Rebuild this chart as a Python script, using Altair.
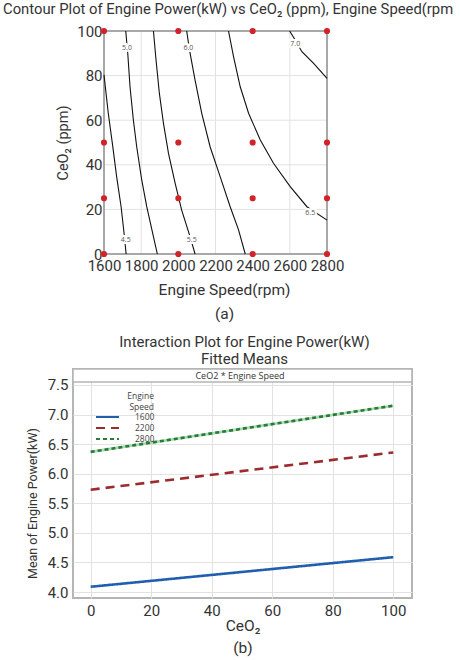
import altair as alt
import pandas as pd

FONT = "Roboto"
SMALL_FONT = "Open Sans"

# ---------------- Panel (a): contour plot ----------------
run_speed = [1600, 2000, 2400, 2800]
run_ceo2 = [0, 25, 50, 100]

grid_speed = [1800, 2200, 2600]
grid_ceo2 = [20, 40, 60, 80]

contour_levels = ["4.5", "5.0", "5.5", "6.0", "6.5", "7.0"]
c45_speed = [1600, 1623, 1645, 1668, 1692, 1708, 1719]
c45_ceo2 = [80.3, 63.1, 49.6, 34.7, 21.2, 9.3, 0]
c50_speed = [1717, 1728, 1740, 1758, 1776, 1803, 1830, 1866, 1887]
c50_ceo2 = [100, 89.8, 75, 60.1, 48.1, 33.2, 21.2, 7.8, 0]
c55_speed = [1866, 1880, 1898, 1920, 1947, 1983, 2018, 2063, 2090]
c55_ceo2 = [100, 87, 72, 58.6, 45.1, 31.7, 19.7, 7.8, 0]
c60_speed = [2045, 2060, 2090, 2126, 2171, 2225, 2279, 2324, 2360]
c60_ceo2 = [100, 91.5, 78, 63.1, 48.1, 34.7, 21.2, 10.8, 0]
c65_speed = [2270, 2297, 2333, 2378, 2441, 2512, 2602, 2692, 2800]
c65_ceo2 = [100, 88.5, 75, 63.1, 51.1, 40.7, 30.2, 21.2, 15.2]
c70_speed = [2599, 2629, 2665, 2728, 2800]
c70_ceo2 = [100, 96, 90.7, 85.5, 78.8]

label_speed = [1717, 1724, 2072, 2054, 2710, 2629]
label_ceo2 = [6.3, 92.2, 6.3, 92.2, 18.5, 94.2]

speed_ticks = [1600, 1800, 2000, 2200, 2400, 2600, 2800]
ceo2_ticks = [0, 20, 40, 60, 80, 100]

# ---------------- Panel (b): interaction plot ----------------
speed_groups = ["1600", "2200", "2800"]
ceo2_ends = [0, 100]
power_1600 = [4.09, 4.59]
power_2200 = [5.73, 6.36]
power_2800 = [6.37, 7.15]
header_text = ["CeO2 * Engine Speed"]
b_x_ticks = [0, 20, 40, 60, 80, 100]
b_y_ticks = [4.0, 4.5, 5.0, 5.5, 6.0, 6.5, 7.0, 7.5]

# ---------------- build tables ----------------
runs = pd.DataFrame([{"speed": s, "ceo2": c} for s in run_speed for c in run_ceo2])
contour_rows = []
for lvl, xs, ys in zip(contour_levels,
                       [c45_speed, c50_speed, c55_speed, c60_speed, c65_speed, c70_speed],
                       [c45_ceo2, c50_ceo2, c55_ceo2, c60_ceo2, c65_ceo2, c70_ceo2]):
    for i, (x, y) in enumerate(zip(xs, ys)):
        contour_rows.append({"level": lvl, "i": i, "speed": x, "ceo2": y})
contours = pd.DataFrame(contour_rows)
labels = pd.DataFrame({"level": contour_levels, "speed": label_speed, "ceo2": label_ceo2})
gx = pd.DataFrame({"speed": grid_speed})
gy = pd.DataFrame({"ceo2": grid_ceo2})
frame_df = pd.DataFrame({"k": [0]})

# top cell shares its left origin with the bottom cell; the contour area
# itself is inset by 31 px through the x-scale range
TW, TH = 254, 223
TX0 = 31
xs_top = alt.Scale(domain=[1600, 2800], range=[TX0, TW], nice=False, zero=False)
ys_top = alt.Scale(domain=[0, 100], nice=False)

top_x_axis = alt.Axis(values=speed_ticks, format="d", grid=False, ticks=False, domain=False,
                      labelFontSize=15, labelColor="#333", labelPadding=4, labelFont=FONT,
                      labelOverlap=False, labelFlush=False,
                      titleFont=FONT, titleFontSize=15.5, titleFontWeight="normal",
                      titleColor="#333", titleLineHeight=24, titlePadding=9,
                      titleX=151, titleAlign="center")
top_y_axis = alt.Axis(values=ceo2_ticks, grid=False, ticks=False, offset=-TX0,
                      domain=False, labelFontSize=15, labelColor="#333", labelPadding=2,
                      labelFont=FONT, labelOverlap=False, labelFlush=False,
                      titleFont=FONT, titleFontSize=14.5,
                      titleFontWeight="normal", titleColor="#333", titlePadding=6)


def TX():
    return alt.X("speed:Q", scale=xs_top, axis=top_x_axis, title=["Engine Speed(rpm)", "(a)"])


def TY():
    return alt.Y("ceo2:Q", scale=ys_top, axis=top_y_axis, title="CeO₂ (ppm)")


grid_v = alt.Chart(gx).mark_rule(color="#e2e2e2", strokeWidth=1).encode(x=TX())
grid_h = alt.Chart(gy).mark_rule(color="#e2e2e2", strokeWidth=1).encode(
    y=TY(), x=alt.datum(1600), x2=alt.datum(2800))
frame_top = alt.Chart(frame_df).mark_rect(fillOpacity=0, stroke="#8c8c8c", strokeWidth=1.5).encode(
    x=alt.datum(1600), x2=alt.datum(2800), y=alt.datum(0), y2=alt.datum(100))
lines_top = alt.Chart(contours).mark_line(color="#111", strokeWidth=1.1).encode(
    x=TX(), y=TY(), detail="level:N", order="i:Q")
lab_halo = alt.Chart(labels).mark_text(fontSize=7, font=SMALL_FONT, stroke="white",
                                       strokeWidth=4, color="white").encode(
    x=TX(), y=TY(), text="level:N")
lab_text = alt.Chart(labels).mark_text(fontSize=7, font=SMALL_FONT, color="#555").encode(
    x=TX(), y=TY(), text="level:N")
dots = alt.Chart(runs).mark_point(filled=True, color="#d1232a", size=38, opacity=1,
                                  shape="circle").encode(x=TX(), y=TY())

top = alt.layer(grid_v, grid_h, frame_top, lines_top, lab_halo, lab_text, dots).properties(
    width=TW, height=TH,
    title=alt.TitleParams(
        text="Contour Plot of Engine Power(kW) vs CeO₂ (ppm), Engine Speed(rpm",
        font=FONT, fontSize=14.8, fontWeight="normal", color="#333",
        anchor="start", frame="group", dx=-70, offset=7),
    view=alt.ViewBackground(strokeOpacity=0))

# ---------------- bottom panel ----------------
brows = []
for g, vals in zip(speed_groups, [power_1600, power_2200, power_2800]):
    for c, p in zip(ceo2_ends, vals):
        brows.append({"speed": g, "ceo2": c, "power": p})
bdf = pd.DataFrame(brows)

BW, BH = 339, 229
xs_b = alt.Scale(domain=[-5.85, 106.2], nice=False, zero=False)
ys_b = alt.Scale(domain=[3.9, 7.77], nice=False, zero=False)

b_x_axis = alt.Axis(values=b_x_ticks, grid=True, gridColor="#e2e2e2",
                    ticks=False, domain=False, labelFontSize=15, labelColor="#333",
                    labelFont=FONT, labelPadding=5, labelOverlap=False, titleFont=FONT,
                    titleFontSize=15.5, titleFontWeight="normal", titleColor="#333",
                    titleLineHeight=22, titlePadding=0)
b_y_axis = alt.Axis(values=b_y_ticks, format=".1f",
                    grid=True, gridColor="#e2e2e2", ticks=False, domain=False,
                    labelFontSize=15, labelColor="#333", labelFont=FONT, labelPadding=5,
                    labelOverlap=False,
                    titleFont=FONT, titleFontSize=12.5,
                    titleFontWeight="normal", titleColor="#333", titlePadding=8,
                    titleY=134)


def BX():
    return alt.X("ceo2:Q", scale=xs_b, axis=b_x_axis, title=["CeO₂", "(b)"])


def BY():
    return alt.Y("power:Q", scale=ys_b, axis=b_y_axis, title="Mean of Engine Power(kW)")


leg = alt.Legend(orient="none", legendX=22, legendY=23, title=["Engine", "Speed"],
                 titleFont=SMALL_FONT, titleFontSize=8.5, titleFontWeight="normal",
                 titleColor="#444", titleAnchor="end", titleLineHeight=11, titlePadding=0,
                 labelFont=SMALL_FONT, labelFontSize=8.5, labelColor="#444",
                 symbolType="stroke", symbolSize=529, symbolStrokeWidth=2,
                 clipHeight=11, labelOffset=15, rowPadding=0)

halo = alt.Chart(bdf[bdf.speed == "2800"]).mark_line(color="#a9dbb1", strokeWidth=2.6).encode(
    x=BX(), y=BY())
blines = alt.Chart(bdf).mark_line(strokeWidth=2.6).encode(
    x=BX(), y=BY(),
    color=alt.Color("speed:N", scale=alt.Scale(domain=speed_groups,
                    range=["#1f5fae", "#9c2b2d", "#2a7a3a"]), legend=leg,
                    title=["Engine", "Speed"]),
    strokeDash=alt.StrokeDash("speed:N", scale=alt.Scale(domain=speed_groups,
                              range=[[1, 0], [9, 6], [4, 3]]), legend=leg,
                              title=["Engine", "Speed"]))
hdr_df = pd.DataFrame({"t": header_text})
hdr_box = alt.Chart(hdr_df).mark_rect(fill="white", stroke="#b5b5b5", strokeWidth=1.5).encode(
    x=alt.value(0), x2=alt.value(BW), y=alt.value(0), y2=alt.value(13))
hdr_txt = alt.Chart(hdr_df).mark_text(font=SMALL_FONT, fontSize=9, color="#333").encode(
    x=alt.value(167), y=alt.value(7), text="t:N")

bottom = alt.layer(halo, blines, hdr_box, hdr_txt).properties(
    width=BW, height=BH,
    title=alt.TitleParams(
        text=["Interaction Plot for Engine Power(kW)", "Fitted Means"],
        font=FONT, fontSize=15, fontWeight="normal", color="#333", lineHeight=17,
        anchor="middle", frame="group", dx=2, offset=1),
    view=alt.ViewBackground(stroke="#b5b5b5", strokeWidth=2))

chart = alt.vconcat(top, bottom, spacing=12).properties(
    padding={"left": 3, "top": 2, "right": 0, "bottom": 0}, background="white"
).resolve_legend(color="independent", strokeDash="independent").resolve_scale(
    x="independent", y="independent", color="independent", strokeDash="independent")

chart.save("out.html", embed_options={"renderer": "svg", "actions": False})
